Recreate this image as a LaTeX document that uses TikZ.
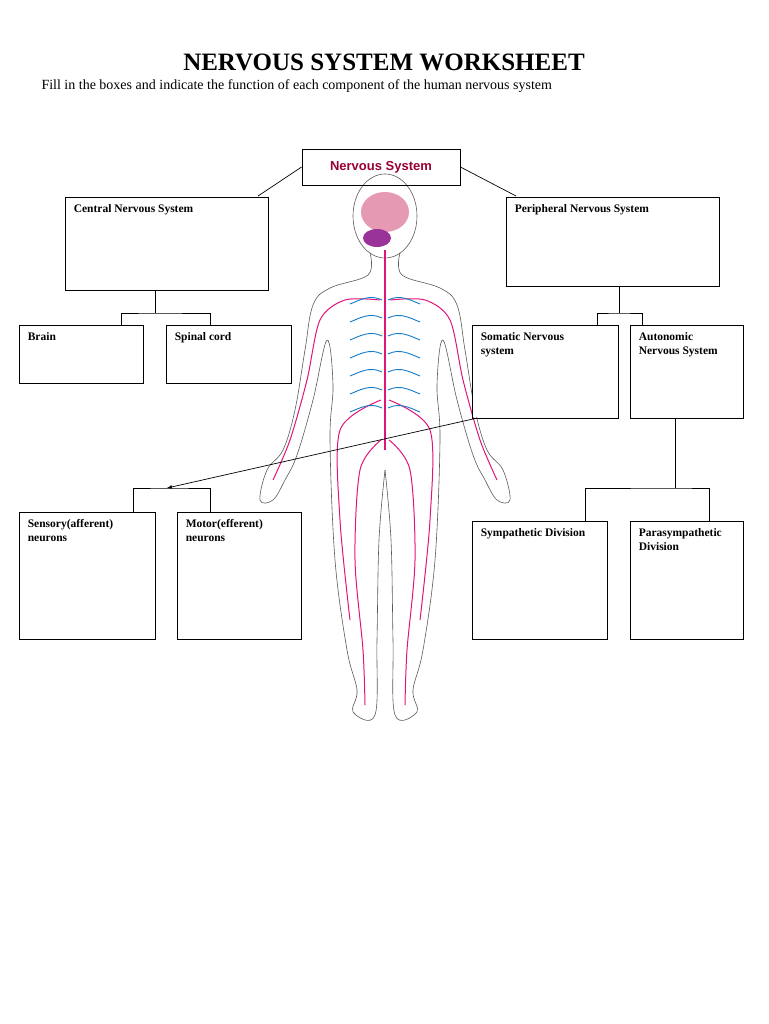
\documentclass[tikz,border=0pt]{standalone}
\usepackage{fontspec}
\setmainfont{Liberation Serif}
\newfontfamily\sansf{Liberation Sans}
\begin{document}
\begin{tikzpicture}[x=1pt,y=-1pt,
  wbox/.style={draw,line width=0.8pt,inner sep=0pt},
  lbl/.style={anchor=north west,inner sep=0pt,xshift=9pt,yshift=-8pt,font=\fontsize{11.5}{13.5}\selectfont\bfseries,align=left},
  conn/.style={line width=0.7pt},
  nerve/.style={draw=magenta!70!purple,line width=1pt},
  blue/.style={draw=cyan!60!blue,line width=0.9pt}]
\useasboundingbox (0,0) rectangle (768,1024);
\node (title) at (384,62) {\fontsize{25}{28}\selectfont\bfseries NERVOUS SYSTEM WORKSHEET};
\node[anchor=west] (sub) at (38,86) {\fontsize{14}{15}\selectfont Fill in the boxes and indicate the function of each component of the human nervous system};
% body figure
\begin{scope}[shift={(385,0)}]
\foreach \s in {1,-1}{
\draw[gray!70!black,line width=0.6pt,xscale=\s] plot[smooth,tension=0.6] coordinates{(15,253) (17,275) (55,288) (72,305) (80,350) (90,410) (102,450) (118,470) (125,500) (112,500) (100,480) (88,455) (72,400) (58,340) (52,385) (55,440) (50,560) (38,650) (28,690) (32,712) (10,715) (8,640) (6,540) (0,470)};
\draw[nerve,xscale=\s] plot[smooth] coordinates{(5,300) (40,300) (65,320) (78,380) (95,440) (112,480)};
\draw[nerve,xscale=\s] plot[smooth] coordinates{(4,440) (25,470) (30,560) (22,650) (20,705)};
\draw[nerve,xscale=\s] plot[smooth] coordinates{(4,400) (45,430) (45,520) (35,620)};
\foreach \y in {300,318,...,420}{\draw[blue,xscale=\s] (3,\y) .. controls (15,\y-6) and (25,\y) .. (35,\y+4);}
}
\draw[gray!70!black,line width=0.6pt] (0,216) ellipse (32 and 42);
\fill[purple!40] (0,212) ellipse (24 and 20);
\fill[violet!80] (-8,238) ellipse (14 and 9);
\draw[nerve,line width=2pt] (0,250) -- (0,450);
\end{scope}
% boxes
\node[wbox,minimum width=158,minimum height=36] (ns) at (381,167) {\sansf\fontsize{13}{15}\selectfont\bfseries\color{purple!80!black}Nervous System};
\fill[white] (66,198) rectangle (267,289);
\node[wbox,minimum width=203,minimum height=93] (cns) at (166.5,243.5) {};
\node[lbl] at (cns.north west) {Central Nervous System};
\fill[white] (507,198) rectangle (718,285);
\node[wbox,minimum width=213,minimum height=89] (pns) at (612.5,241.5) {};
\node[lbl] at (pns.north west) {Peripheral Nervous System};
\fill[white] (20,326) rectangle (142,382);
\node[wbox,minimum width=124,minimum height=58] (brain) at (81,354) {};
\node[lbl] at (brain.north west) {Brain};
\fill[white] (167,326) rectangle (290,382);
\node[wbox,minimum width=125,minimum height=58] (spinal) at (228.5,354) {};
\node[lbl] at (spinal.north west) {Spinal cord};
\fill[white] (473,326) rectangle (617,417);
\node[wbox,minimum width=146,minimum height=93] (som) at (545,371.5) {};
\node[lbl] at (som.north west) {Somatic Nervous\\system};
\fill[white] (631,326) rectangle (742,417);
\node[wbox,minimum width=113,minimum height=93] (aut) at (686.5,371.5) {};
\node[lbl] at (aut.north west) {Autonomic\\Nervous System};
\node[wbox,minimum width=136,minimum height=127] (sens) at (87,575.5) {};
\node[lbl] at (sens.north west) {Sensory(afferent)\\neurons};
\node[wbox,minimum width=124,minimum height=127] (mot) at (239,575.5) {};
\node[lbl] at (mot.north west) {Motor(efferent)\\neurons};
\node[wbox,minimum width=135,minimum height=118] (sym) at (539.5,580) {};
\node[lbl] at (sym.north west) {Sympathetic Division};
\node[wbox,minimum width=113,minimum height=118] (para) at (686.5,580) {};
\node[lbl] at (para.north west) {Parasympathetic\\Division};
% connectors
\coordinate (c1) at (258,196);
\coordinate (c2) at (516,196);
\draw[conn] (ns.west) -- (c1);
\draw[conn] (ns.east) -- (c2);
\draw[conn] (cns.south -| 155,0) -- (155,313);
\draw[conn] (brain.north -| 121,0) |- (155,313) -| (spinal.north -| 210,0);
\draw[conn] (pns.south -| 619,0) -- (619,313);
\draw[conn] (som.north -| 597,0) |- (619,313) -| (aut.north -| 642,0);
\draw[conn] (aut.south -| 675,0) -- (675,488);
\draw[conn] (sym.north -| 585,0) |- (675,488) -| (para.north -| 709,0);
\coordinate (sb) at (167,488);
\draw[conn] (sens.north -| 133,0) |- (sb) -| (mot.north -| 210,0);
\draw[conn,-latex] (som.south west) ++(4,0) -- (sb);
\end{tikzpicture}
\end{document}
